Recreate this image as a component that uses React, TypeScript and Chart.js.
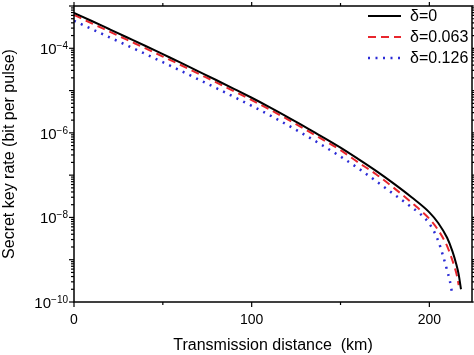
import React, { useEffect, useRef } from "react";
import { Chart, registerables } from "chart.js";

Chart.register(...registerables);

// ---- data ----
const distBlack = [0, 10, 20, 30, 40, 50, 60, 70, 80, 90, 100, 110, 120, 130, 140, 150, 160, 170, 180, 190, 200, 205, 210, 213, 215, 216.5, 217.8];
const rateBlack = [6.9e-4, 4.42e-4, 2.82e-4, 1.8e-4, 1.15e-4, 7.24e-5, 4.57e-5, 2.85e-5, 1.78e-5, 1.1e-5, 6.76e-6, 4.07e-6, 2.4e-6, 1.38e-6, 7.94e-7, 4.47e-7, 2.4e-7, 1.26e-7, 6.3e-8, 3.0e-8, 1.32e-8, 7.4e-9, 3.3e-9, 1.58e-9, 8.3e-10, 4.5e-10, 2.0e-10];

const distRed = [0, 10, 20, 30, 40, 50, 60, 70, 80, 90, 100, 110, 120, 130, 140, 150, 160, 170, 180, 190, 200, 205, 210, 212, 214, 215.5, 216.5];
const rateRed = [6.17e-4, 3.89e-4, 2.48e-4, 1.58e-4, 1.01e-4, 6.38e-5, 4.03e-5, 2.51e-5, 1.57e-5, 9.66e-6, 5.96e-6, 3.59e-6, 2.11e-6, 1.22e-6, 6.92e-7, 3.89e-7, 2.0e-7, 1.05e-7, 5.0e-8, 2.24e-8, 9.3e-9, 5.0e-9, 2.1e-9, 1.26e-9, 7.1e-10, 4.2e-10, 2.5e-10];

const distBlue = [0, 10, 20, 30, 40, 50, 60, 70, 80, 90, 100, 110, 120, 130, 140, 150, 160, 170, 180, 190, 195, 200, 205, 208, 210, 211.5, 212.6];
const rateBlue = [4.47e-4, 2.85e-4, 1.82e-4, 1.16e-4, 7.41e-5, 4.68e-5, 2.95e-5, 1.84e-5, 1.15e-5, 7.08e-6, 4.37e-6, 2.63e-6, 1.55e-6, 8.91e-7, 5.01e-7, 2.75e-7, 1.45e-7, 7.24e-8, 3.55e-8, 1.74e-8, 1.2e-8, 7.1e-9, 2.8e-9, 1.12e-9, 5.6e-10, 3.2e-10, 1.82e-10];

const seriesLabels = ["δ=0", "δ=0.063", "δ=0.126"];
const xMajorTicks = [0, 100, 200];
const xMinorTicks = [50, 150];
const yDecadeExponents = [-10, -9, -8, -7, -6, -5, -4, -3];
const yLabelExponents = [-4, -6, -8, -10];
const xTitle = "Transmission distance  (km)";
const yTitle = "Secret key rate (bit per pulse)";

const FONT = '"Liberation Sans", Arial, Helvetica, sans-serif';

const toPoints = (xs: number[], ys: number[]) => xs.map((x, i) => ({ x, y: ys[i] }));

const framePlugin = {
  id: "frameAndTicks",
  afterDraw(chart: any) {
    const ctx = chart.ctx as CanvasRenderingContext2D;
    const { left, right, top, bottom } = chart.chartArea;
    const xs = chart.scales.x;
    const ys = chart.scales.y;
    ctx.save();
    ctx.strokeStyle = "#000";
    ctx.lineWidth = 1.5;
    ctx.strokeRect(left, top, right - left, bottom - top);

    ctx.lineWidth = 1.2;
    const vline = (x: number, y0: number, y1: number) => {
      ctx.beginPath();
      ctx.moveTo(x, y0);
      ctx.lineTo(x, y1);
      ctx.stroke();
    };
    const hline = (y: number, x0: number, x1: number) => {
      ctx.beginPath();
      ctx.moveTo(x0, y);
      ctx.lineTo(x1, y);
      ctx.stroke();
    };
    xMajorTicks.forEach((v) => {
      const px = xs.getPixelForValue(v);
      vline(px, bottom, bottom + 5);
      vline(px, top, top - 4);
    });
    xMinorTicks.forEach((v) => {
      const px = xs.getPixelForValue(v);
      vline(px, bottom, bottom + 3);
      vline(px, top, top - 3);
    });
    yDecadeExponents.forEach((e) => {
      const py = ys.getPixelForValue(Math.pow(10, e));
      hline(py, left - 5, left);
      hline(py, right, right + 5);
      if (e < -3) {
        for (let m = 2; m <= 9; m++) {
          const pm = ys.getPixelForValue(m * Math.pow(10, e));
          hline(pm, left - 3, left);
          hline(pm, right, right + 3);
        }
      }
    });

    // tick labels
    ctx.fillStyle = "#000";
    ctx.font = `14px ${FONT}`;
    ctx.textAlign = "center";
    ctx.textBaseline = "alphabetic";
    xMajorTicks.forEach((v) => {
      ctx.fillText(String(v), xs.getPixelForValue(v), bottom + 22);
    });

    yLabelExponents.forEach((e) => {
      const py = ys.getPixelForValue(Math.pow(10, e));
      const exp = "\u2212" + String(-e);
      ctx.font = `10px ${FONT}`;
      const ew = ctx.measureText(exp).width;
      ctx.textAlign = "right";
      ctx.fillText(exp, 68, py + 1);
      ctx.font = `15px ${FONT}`;
      ctx.fillText("10", 68 - ew, py + 6);
    });

    // legend
    const ds = chart.data.datasets;
    const rowsY = [16, 37, 58];
    ds.forEach((d: any, i: number) => {
      const y = rowsY[i];
      ctx.strokeStyle = d.borderColor;
      ctx.lineWidth = d.borderWidth;
      ctx.setLineDash(d.borderDash || []);
      ctx.beginPath();
      ctx.moveTo(368, y);
      ctx.lineTo(401, y);
      ctx.stroke();
      ctx.setLineDash([]);
      ctx.fillStyle = "#000";
      ctx.font = `16px ${FONT}`;
      ctx.textAlign = "left";
      ctx.textBaseline = "middle";
      ctx.fillText(d.label, 410, y + 1);
    });
    ctx.restore();
  },
};

export default function App() {
  const ref = useRef<HTMLCanvasElement | null>(null);
  useEffect(() => {
    document.body.style.margin = "0";
    if (!ref.current) return;
    const chart = new Chart(ref.current, {
      type: "line",
      data: {
        datasets: [
          {
            label: seriesLabels[0],
            data: toPoints(distBlack, rateBlack),
            borderColor: "#000000",
            borderWidth: 2,
            pointRadius: 0,
            cubicInterpolationMode: "monotone",
          },
          {
            label: seriesLabels[1],
            data: toPoints(distRed, rateRed),
            borderColor: "#e8262d",
            borderWidth: 2,
            borderDash: [8, 5],
            pointRadius: 0,
            cubicInterpolationMode: "monotone",
          },
          {
            label: seriesLabels[2],
            data: toPoints(distBlue, rateBlue),
            borderColor: "#2b2bd6",
            borderWidth: 2.5,
            borderDash: [2, 5.5],
            pointRadius: 0,
            cubicInterpolationMode: "monotone",
          },
        ],
      },
      options: {
        animation: false,
        responsive: false,
        layout: { padding: { top: 6, right: 2, left: 0, bottom: 0 } },
        plugins: { legend: { display: false }, tooltip: { enabled: false } },
        scales: {
          x: {
            type: "linear",
            min: 0,
            max: 224,
            grid: { display: false },
            border: { display: false },
            ticks: { display: false },
            title: {
              display: true,
              text: xTitle,
              color: "#000",
              font: { size: 16, family: FONT },
              padding: 0,
            },
            afterFit: (s: any) => {
              s.height = 53;
            },
          },
          y: {
            type: "logarithmic",
            min: 1e-10,
            max: 1e-3,
            grid: { display: false },
            border: { display: false },
            ticks: { display: false },
            title: {
              display: true,
              text: yTitle,
              color: "#000",
              font: { size: 16, family: FONT },
              padding: 0,
            },
            afterFit: (s: any) => {
              s.width = 74;
            },
          },
        },
      } as any,
      plugins: [framePlugin],
    });
    return () => chart.destroy();
  }, []);
  return (
    <div style={{ width: 474, height: 355 }}>
      <canvas ref={ref} width={474} height={355} />
    </div>
  );
}
